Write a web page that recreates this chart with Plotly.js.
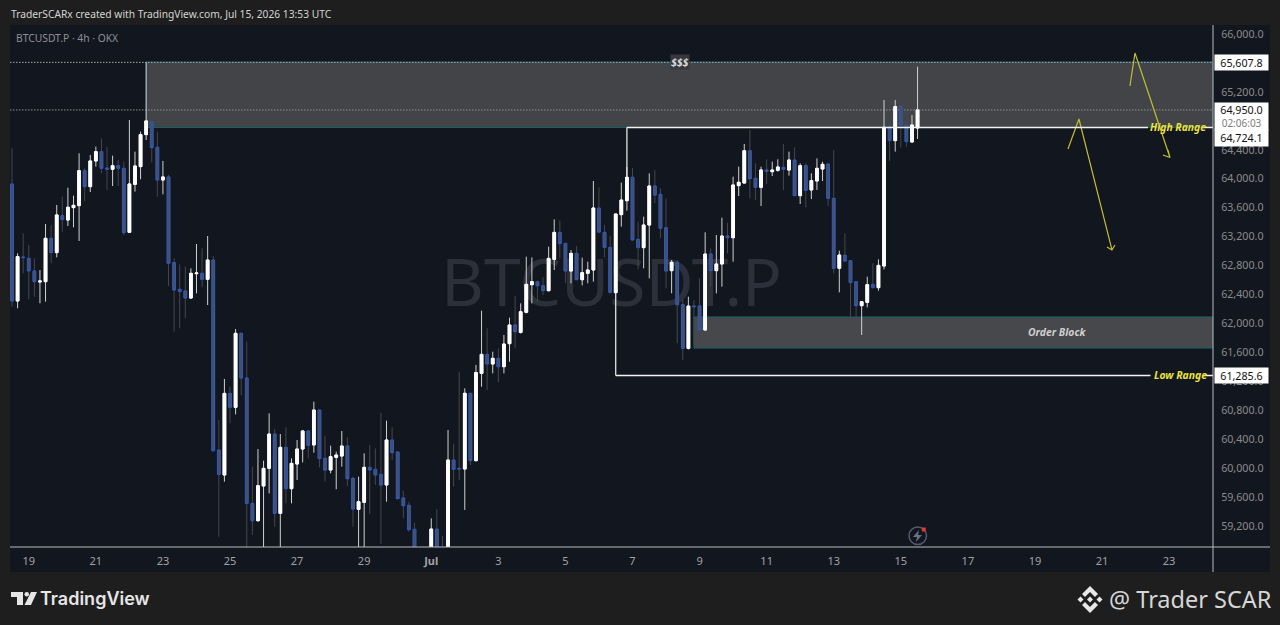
<!DOCTYPE html>
<html><head><meta charset="utf-8">
<script src="https://cdn.plot.ly/plotly-3.0.1.min.js"></script>
<style>html,body{margin:0;padding:0;background:#1e1e1e;overflow:hidden}#c{width:1280px;height:625px}</style>
</head><body><div id="c"></div>
<script>
const startTime = "2026-06-18T12:00:00Z";
const candleHours = 4;
const open = [63927,62310,62918,62900,62725,62572,62577,63176,62978,63489,63429,63600,63628,64111,63890,64245,64374,64148,64130,64180,64144,63259,63922,64167,64609,64789,64434,63982,64024,
62840,62471,62448,62351,62687,62692,62609,62876,60250,59905,61033,60840,61863,61245,59513,59274,59753,59997,60471,59375,60287,59716,60057,60264,60513,60320,60803,60135,59974,60149,60167,60306,59859,59430,59527,60011,59983,59914,59767,60389,60223,59587,59486,59154,58800,58620,58450,59158,58800,58650,60112,59997,
59988,61034,60104,61310,61572,61439,61517,61402,61720,61978,61876,62153,62535,62577,62521,62452,62885,63258,63106,62724,62968,62604,62692,62738,63595,63258,63051,62425,63503,63696,64019,63162,63047,63360,63899,63784,63323,
62729,62844,62259,61655,62240,62240,61909,62959,62729,62821,63208,63185,63904,63940,64387,64005,63881,64120,64097,64116,64157,64120,64258,63765,64180,63844,63968,64134,64203,63729,62761,62941,62867,62577,62245,62291,62540,62494,62793,
64719,64526,64996,64742,64507,64701];
const high = [64420,62969,63245,63084,62900,62738,63374,63360,63637,63752,63876,63766,64351,64144,64328,64443,64558,64443,64319,64259,64236,64812,64374,64650,65607.8,64798,64650,64245,64051,
62899,62816,62784,62761,63097,63038,63208,62932,60665,61232,61126,61923,61870,61748,60020,60264,60103,60757,60541,60471,60564,60135,60389,60527,60520,60918,60810,60448,60310,60227,60513,60425,59882,59882,60204,60320,60273,60766,60656,60564,60230,59688,59536,59246,58880,58850,59306,59430,59062,60527,60333,61333,
61103,61040,61426,62176,61932,61609,61655,61840,62079,62379,62277,62922,62913,62590,62637,63060,63438,63420,63115,63014,63070,62908,62853,63968,63880,63360,63212,63521,63945,64162,64150,63406,63475,64074,64120,63867,63728,
62876,62876,62323,62369,62323,62623,63259,63037,63222,63461,63392,64028,64166,64480,64673,64212,64166,64268,64235,64268,64480,64374,64433,64212,64212,64074,64281,64235,64212,64397,63005,63245,62876,62580,62310,62646,62830,62885,65088,
64858,65088,65019,65249,64881,65549];
const low = [62232,62209,62692,62333,62370,62278,62301,62831,62913,63268,63347,63328,63139,63692,63816,64167,64074,63844,63899,63899,63222,63254,63821,63992,64535,64226,63752,63784,62517,
61886,61932,62070,62340,62416,62499,62254,60230,59052,59813,60619,60743,61010,58800,59076,59260,58850,59651,59191,58850,59513,59513,59836,60080,60135,60213,60011,59813,59928,59707,60020,59753,59191,58850,58850,59366,59767,58951,59536,60112,59570,59306,59122,58700,58550,58400,58350,58600,58500,58550,59744,59836,
59422,60044,60090,61125,61079,61310,61185,61310,61471,61655,61860,62139,62277,62300,62392,62445,62738,62899,62554,62554,62600,62526,62554,62577,63245,62913,62415,62420,63337,63558,63144,62747,62761,62623,63659,63176,62485,
62416,61725,61494,61640,61725,61655,61900,62508,62416,62508,62968,62853,63761,63930,63729,63706,63623,63927,64037,64097,63844,64042,63760,63650,63604,63719,63844,63968,63623,62692,62429,62855,62056,61780,61840,62222,62485,62452,62747,
64245,64374,64429,64443,64500,64549];
const close = [62310,62923,62909,62725,62577,62586,63176,62978,63499,63434,63605,63632,64111,63890,64245,64374,64144,64130,64180,64144,63254,63927,64176,64609,64798,64429,63982,64024,62831,
62462,62439,62351,62692,62697,62609,62876,60241,59914,61033,60840,61863,61245,59513,59274,59757,59997,60471,59375,60287,59716,60066,60264,60513,60315,60803,60131,59974,60158,60181,60306,59854,59435,59536,60011,59974,59905,59767,60389,60213,59578,59481,59149,58800,58620,58500,59158,58800,58650,60112,59983,59988,
61034,60104,61320,61572,61439,61517,61402,61715,61978,61886,62162,62540,62577,62521,62452,62899,63258,63102,62724,62968,62604,62701,62738,63595,63263,63051,62429,63512,63705,64019,63153,63047,63360,63899,63774,63314,62724,
62844,62259,61655,62240,62231,61909,62959,62729,62821,63208,63185,63913,63950,64387,64000,63881,64120,64102,64120,64162,64129,64258,63765,64180,63839,63973,64143,64198,63729,62761,62945,62862,62563,62245,62300,62535,62494,62802,64710,
64526,64996,64742,64512,64742,64950];

const xTickDates = ["2026-06-19","2026-06-21","2026-06-23","2026-06-25","2026-06-27","2026-06-29","2026-07-01","2026-07-03","2026-07-05","2026-07-07","2026-07-09","2026-07-11","2026-07-13","2026-07-15","2026-07-17","2026-07-19","2026-07-21","2026-07-23"];
const xTickLabels = ["19","21","23","25","27","29","<b>Jul</b>","3","5","7","9","11","13","15","17","19","21","23"];
const yTickValues = [66000,65200,64400,64000,63600,63200,62800,62400,62000,61600,61200,60800,60400,60000,59600,59200];
const yTickLabels = ["66,000.0","65,200.0","64,400.0","64,000.0","63,600.0","63,200.0","62,800.0","62,400.0","62,000.0","61,600.0","61,200.0","60,800.0","60,400.0","60,000.0","59,600.0","59,200.0"];

const lastPrice = 64950.0, liquidityPrice = 65607.8, highRange = 64724.1, lowRange = 61285.6;
const highRangeLine = 64708, lowRangeLine = 61280, zoneTop = 65612;
const obTop = 62089, obBottom = 61660;
const arrowATimes = ["2026-07-19T23:36:00Z","2026-07-20T07:29:00Z","2026-07-21T07:06:00Z","2026-07-21T03:31:00Z","2026-07-21T07:06:00Z","2026-07-21T09:14:00Z"];
const arrowAPrices = [64411,64825,63015,63056,63015,63084];
const arrowBTimes = ["2026-07-21T19:58:00Z","2026-07-21T23:34:00Z","2026-07-23T00:36:00Z","2026-07-22T19:35:00Z","2026-07-23T00:36:00Z","2026-07-22T23:10:00Z"];
const arrowBPrices = [65281,65737,64293,64328,64293,64397];

const times = open.map((_, i) => new Date(Date.parse(startTime) + i * candleHours * 3600000).toISOString());
const bodyHigh = open.map((o, i) => Math.max(o, close[i]));
const bodyLow = open.map((o, i) => Math.min(o, close[i]));

const W = 1280, H = 625, L = 10, R = 1213, T = 25, B = 547;
const px = x => (x - L) / (R - L);
const py = y => (B - y) / (B - T);
const pathOf = pts => pts.map((p, i) => (i ? "L" : "M") + px(p[0]).toFixed(5) + "," + py(p[1]).toFixed(5)).join(" ") + " Z";

const logoPath = (pts, color) => ({type:"path", xref:"paper", yref:"paper", path:pathOf(pts), fillcolor:color, line:{width:0}, layer:"above"});
const rectPx = (x0,y0,x1,y1,fill,extra) => Object.assign({type:"rect", xref:"paper", yref:"paper", x0:px(x0), x1:px(x1), y0:py(y0), y1:py(y1), fillcolor:fill, line:{width:0}}, extra||{});
const linePx = (x0,y0,x1,y1,color,w) => ({type:"line", xref:"paper", yref:"paper", x0:px(x0), x1:px(x1), y0:py(y0), y1:py(y1), line:{color, width:w||1}, layer:"above"});

const t0 = "2026-06-18T10:34:00Z", t1 = "2026-07-24T07:24:00Z";
const zoneLeft = "2026-06-22T12:00:00Z", obLeft = "2026-07-08T20:00:00Z", lowLeft = "2026-07-06T12:00:00Z", highLeft = "2026-07-06T20:00:00Z";
const highEnd = "2026-07-22T08:51:00Z", lowEnd = "2026-07-22T10:40:00Z", labelEnd = "2026-07-24T00:10:00Z";
const teal = "#1b626a", white = "#f2f2f2", panel = "#12161f", yellow = "#c4bc33";
const dotted = "1.5px,1.5px";

const shapes = [
  rectPx(0,0,1280,625,"#1e1e1e",{layer:"below"}),
  rectPx(10,25,1270,572,panel,{layer:"below"}),
  {type:"rect", xref:"paper", yref:"paper", x0:px(443), x1:px(780), y0:py(255), y1:py(315), fillcolor:"rgba(0,0,0,0)", line:{width:0}, layer:"below",
   label:{text:"BTCUSDT.P", font:{family:"Noto Sans", size:66, color:"#2d303a"}, textposition:"middle center"}},
  {type:"rect", xref:"x", yref:"y", x0:zoneLeft, x1:t1, y0:highRangeLine, y1:zoneTop, fillcolor:"#434447", line:{color:teal, width:1}, layer:"below"},
  {type:"rect", xref:"x", yref:"y", x0:obLeft, x1:t1, y0:obBottom, y1:obTop, fillcolor:"#47484c", line:{color:teal, width:1}, layer:"below"},
  {type:"line", xref:"x", yref:"y", x0:t0, x1:t1, y0:liquidityPrice, y1:liquidityPrice, line:{color:"#a8a8a8", width:1, dash:dotted}, layer:"below"},
  {type:"line", xref:"x", yref:"y", x0:t0, x1:t1, y0:lastPrice, y1:lastPrice, line:{color:"#909090", width:1, dash:dotted}, layer:"below"},
  {type:"line", xref:"x", yref:"y", x0:highLeft, x1:highEnd, y0:highRangeLine, y1:highRangeLine, line:{color:white, width:1.5}, layer:"above"},
  {type:"line", xref:"x", yref:"y", x0:labelEnd, x1:t1, y0:highRangeLine, y1:highRangeLine, line:{color:white, width:1.5}, layer:"above"},
  {type:"line", xref:"x", yref:"y", x0:highLeft, x1:highLeft, y0:64019, y1:highRangeLine, line:{color:white, width:1.2}, layer:"above"},
  {type:"line", xref:"x", yref:"y", x0:lowLeft, x1:lowEnd, y0:lowRangeLine, y1:lowRangeLine, line:{color:white, width:1.5}, layer:"above"},
  {type:"line", xref:"x", yref:"y", x0:labelEnd, x1:t1, y0:lowRangeLine, y1:lowRangeLine, line:{color:white, width:1.5}, layer:"above"},
  {type:"line", xref:"x", yref:"y", x0:lowLeft, x1:lowLeft, y0:lowRangeLine, y1:62420, line:{color:white, width:1.2}, layer:"above"},
  linePx(10,547,1270,547,"#b9bbc0",1),
  linePx(1213,25,1213,572,"#b9bbc0",1),
  // lightning icon
  {type:"circle", xref:"paper", yref:"paper", x0:px(909), x1:px(926.5), y0:py(527), y1:py(544.5), fillcolor:"rgba(0,0,0,0)", line:{color:"#565c70", width:1.5}, layer:"above"},
  logoPath([[919,530],[913,537],[917,537],[916,542],[922,535],[918,535]],"#6a7086"),
  rectPx(921.8,527.5,925.8,531.5,"#e53935",{layer:"above"}),
  // TradingView mark
  logoPath([[11,592],[23,592],[23,605],[17,605],[17,597],[11,597]],"#e6e6e6"),
  {type:"circle", xref:"paper", yref:"paper", x0:px(24.5), x1:px(29), y0:py(592), y1:py(596.5), fillcolor:"#e6e6e6", line:{width:0}, layer:"above"},
  logoPath([[31,592],[37,592],[31,605],[24.5,605]],"#e6e6e6"),
  // Binance mark
  logoPath([[1090,586],[1098,594],[1095,597],[1090,592],[1085,597],[1082,594]],"#e8e8e8"),
  logoPath([[1090,613],[1098,605],[1095,602],[1090,607],[1085,602],[1082,605]],"#e8e8e8"),
  logoPath([[1080.5,596.5],[1083.5,599.5],[1080.5,602.5],[1077.5,599.5]],"#e8e8e8"),
  logoPath([[1099.5,596.5],[1102.5,599.5],[1099.5,602.5],[1096.5,599.5]],"#e8e8e8"),
  logoPath([[1090,596.5],[1093,599.5],[1090,602.5],[1087,599.5]],"#e8e8e8"),
];

const font = "Noto Sans";
const txt = (x, y, text, size, color, anchor, extra) => Object.assign({xref:"paper", yref:"paper", x:px(x), y:py(y), text, showarrow:false, xanchor:anchor||"left", yanchor:"middle", font:{family:font, size, color}}, extra||{});
const tag = (price, text, h, yshift) => ({xref:"paper", yref:"y", x:px(1213.5), y:price, text, showarrow:false, xanchor:"left", yanchor:"middle", yshift:yshift||0, width:53, height:h, bgcolor:"#ffffff", borderpad:0, align:"center", font:{family:font, size:10.7, color:"#111"}});

const annotations = [
  txt(9,14,"TraderSCARx created with TradingView.com, Jul 15, 2026 13:53 UTC",10.25,"#d4d4d4"),
  txt(14,38,"BTCUSDT.P · 4h · OKX",10.3,"#8f9096"),
  txt(38,598,"TradingView",18,"#e6e6e6","left",{font:{family:"Inter",size:18,color:"#e6e6e6",weight:600}}),
  txt(1274,599,"@ Trader SCAR",23.5,"#d6d6d6","right"),
  txt(680,62,"<b><i>$$$</i></b>",10.5,"#d8d8d8","center",{bgcolor:"#36383d",borderpad:0}),
  txt(1178,127,"<b><i>High Range</i></b>",10.3,"#ece33c","center"),
  txt(1180,375,"<b><i>Low Range</i></b>",10.4,"#ece33c","center"),
  txt(1057,331.5,"<b><i>Order Block</i></b>",10.4,"#cfcfcf","center"),
  tag(liquidityPrice,"65,607.8",15),
  tag(64860,"64,950.0<br><span style='color:#7b7b7b;font-size:10px'>02:06:03</span>",27),
  tag(highRange,"64,724.1",16,-12),
  tag(lowRange,"61,285.6",15),
];

const candleCommon = {type:"candlestick", x:times, xaxis:"x", yaxis:"y", hoverinfo:"skip", showlegend:false};
const traces = [
  Object.assign({}, candleCommon, {open, high, low, close, name:"wicks",
    increasing:{line:{color:"#d0d0d0",width:1},fillcolor:"#ffffff"},
    decreasing:{line:{color:"#45474e",width:1},fillcolor:"#45474e"}}),
  Object.assign({}, candleCommon, {open, high:bodyHigh, low:bodyLow, close, name:"bodies",
    increasing:{line:{color:"#ffffff",width:1},fillcolor:"#ffffff"},
    decreasing:{line:{color:"#2b59bd",width:1},fillcolor:"#4a4f60"}}),
  {type:"scatter", mode:"lines", x:arrowATimes, y:arrowAPrices, line:{color:yellow,width:1.2}, hoverinfo:"skip", showlegend:false},
  {type:"scatter", mode:"lines", x:arrowBTimes, y:arrowBPrices, line:{color:yellow,width:1.2}, hoverinfo:"skip", showlegend:false},
];

const layout = {
  width:W, height:H, autosize:false,
  margin:{l:L, r:W-R, t:T, b:H-B, pad:0},
  paper_bgcolor:"#1e1e1e", plot_bgcolor:panel,
  showlegend:false, shapes, annotations, dragmode:false,
  xaxis:{type:"date", range:[t0,t1], rangeslider:{visible:false}, tickmode:"array", tickvals:xTickDates, ticktext:xTickLabels,
    showgrid:false, zeroline:false, showline:false, ticks:"outside", ticklen:4, tickcolor:"rgba(0,0,0,0)", tickfont:{family:font,size:11,color:"#a2a2a2"}},
  yaxis:{side:"right", range:[58910,66124], tickmode:"array", tickvals:yTickValues, ticktext:yTickLabels,
    showgrid:false, zeroline:false, showline:false, ticks:"outside", ticklen:5, tickcolor:"rgba(0,0,0,0)", tickfont:{family:font,size:10.7,color:"#8b8b8b"}},
};
Plotly.newPlot("c", traces, layout, {staticPlot:true, displayModeBar:false});
</script></body></html>
